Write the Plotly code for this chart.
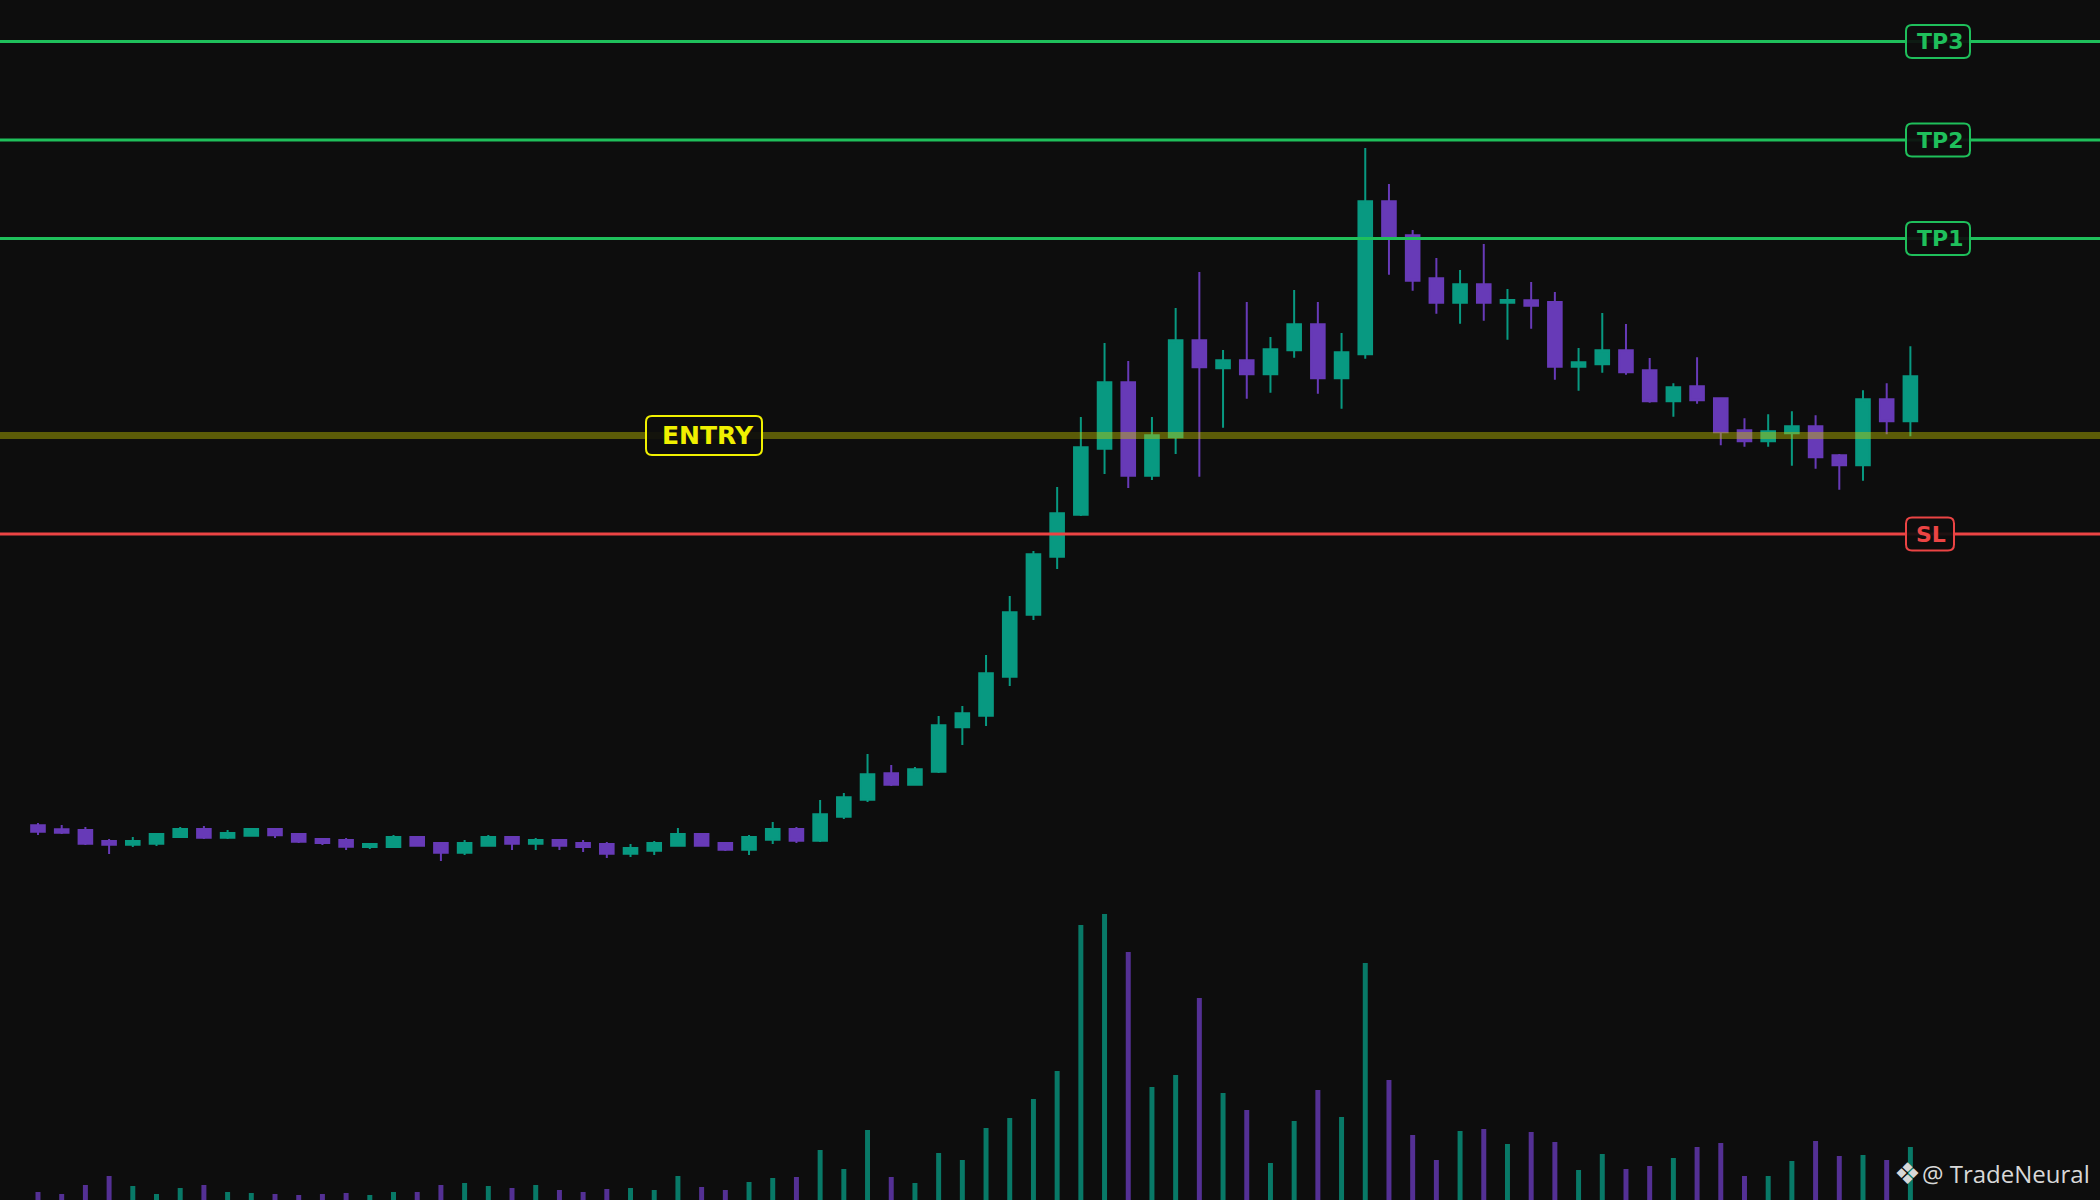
import plotly.graph_objects as go

# -------------------------
# candle data (80 bars)
# -------------------------
opens = [
    37.47, 37.07, 37.00, 35.90, 35.53, 35.63, 36.30, 37.10, 36.23, 36.43,
    37.10, 36.60, 36.10, 36.00, 35.30, 35.30, 36.30, 35.70, 34.73, 35.43,
    36.30, 35.63, 36.00, 35.70, 35.60, 34.63, 34.93, 35.43, 36.60, 35.70,
    35.03, 36.03, 37.10, 35.93, 38.33, 40.03, 42.67, 41.53, 42.83, 47.27,
    48.43, 52.33, 58.53, 64.33, 68.53, 75.13, 81.77, 72.43, 76.27, 85.97,
    83.17, 83.97, 82.57, 84.97, 87.57, 82.17, 84.57, 99.87, 96.47, 92.17,
    89.73, 91.57, 89.73, 89.97, 89.80, 83.33, 83.57, 84.97, 82.97, 79.87,
    81.37, 80.17, 76.97, 75.87, 76.67, 77.37, 74.47, 73.47, 80.07, 77.87,
]
highs = [
    37.70, 37.50, 37.30, 36.10, 36.30, 36.67, 37.30, 37.40, 37.00, 37.10,
    37.20, 36.60, 36.20, 36.20, 35.70, 36.50, 36.40, 35.80, 36.00, 36.50,
    36.30, 36.20, 36.10, 36.00, 35.80, 35.60, 35.90, 37.20, 36.70, 35.80,
    36.50, 37.80, 37.30, 40.00, 40.70, 44.60, 43.50, 43.30, 48.40, 49.40,
    54.50, 60.40, 64.90, 71.30, 78.30, 85.70, 83.90, 78.30, 89.20, 92.80,
    85.00, 89.80, 86.30, 91.00, 89.80, 86.70, 105.20, 101.60, 97.00, 94.20,
    93.00, 95.60, 91.10, 91.80, 90.80, 85.20, 88.70, 87.60, 84.20, 81.67,
    84.27, 80.27, 78.17, 78.57, 78.87, 78.47, 74.60, 80.97, 81.67, 85.37,
]
lows = [
    36.50, 36.60, 35.50, 34.60, 35.30, 35.40, 36.20, 36.10, 36.10, 36.40,
    36.20, 35.70, 35.50, 35.00, 35.10, 35.20, 35.43, 33.90, 34.50, 35.40,
    35.00, 35.00, 35.00, 34.80, 34.20, 34.30, 34.50, 35.40, 35.40, 34.90,
    34.50, 35.60, 35.70, 35.80, 38.10, 39.80, 41.40, 41.50, 42.70, 45.50,
    47.40, 51.40, 58.00, 63.10, 68.40, 72.60, 71.20, 72.00, 74.60, 72.33,
    77.23, 80.13, 80.73, 84.23, 80.63, 79.13, 84.13, 92.53, 90.93, 88.63,
    87.63, 87.93, 86.03, 87.13, 82.03, 80.93, 82.73, 82.53, 79.73, 78.33,
    79.63, 75.47, 75.33, 75.33, 73.43, 73.13, 71.03, 71.93, 76.57, 76.37,
]
closes = [
    36.83, 36.73, 35.63, 35.53, 35.90, 36.60, 37.10, 36.23, 36.70, 37.10,
    36.47, 35.83, 35.70, 35.33, 35.60, 36.30, 35.43, 34.73, 35.70, 36.30,
    35.63, 36.00, 35.43, 35.30, 34.63, 35.20, 35.70, 36.60, 35.43, 35.03,
    36.30, 37.10, 35.93, 38.57, 40.27, 42.57, 41.53, 43.07, 47.47, 48.67,
    52.67, 58.77, 64.57, 68.67, 75.27, 81.77, 72.43, 76.47, 85.97, 83.27,
    83.97, 82.57, 85.07, 87.57, 82.17, 84.77, 99.87, 96.27, 91.93, 89.73,
    91.57, 89.73, 90.00, 89.43, 83.33, 83.77, 84.97, 82.77, 79.87, 81.27,
    79.97, 76.77, 75.87, 76.87, 77.37, 74.27, 73.47, 80.07, 77.87, 82.37,
]
volumes = [
    80, 60, 150, 240, 140, 60, 120, 150, 80, 70,
    60, 50, 60, 70, 50, 80, 80, 150, 170, 140,
    120, 150, 100, 80, 110, 120, 100, 240, 130, 100,
    180, 220, 230, 500, 310, 700, 230, 170, 470, 400,
    720, 820, 1010, 1290, 2750, 2860, 2480, 1130, 1250, 2020,
    1070, 900, 370, 790, 1100, 830, 2370, 1200, 650, 400,
    690, 710, 560, 680, 580, 300, 460, 310, 340, 420,
    530, 570, 240, 240, 390, 590, 440, 450, 400, 530,
]

# trade levels
level_names = ["TP3", "TP2", "TP1", "ENTRY", "SL"]
level_prices = [115.85, 106.00, 96.15, 76.45, 66.60]

# -------------------------
# colours
# -------------------------
BG = "#0d0d0d"
UP = "#089981"
DOWN = "#673ab7"
TP_GREEN = "#1fbf5b"
SL_RED = "#eb4444"
ENTRY_YELLOW = "#f0f000"

W, H = 2100, 1200
idx = list(range(len(opens)))

vol_colors = [
    "rgba(8,153,129,0.78)" if c >= o else "rgba(103,58,183,0.8)"
    for o, c in zip(opens, closes)
]

fig = go.Figure()

# volume first so it sits under everything
fig.add_trace(go.Bar(
    x=idx, y=volumes, yaxis="y2",
    width=0.21,
    marker=dict(color=vol_colors, line=dict(width=0)),
    hoverinfo="skip", showlegend=False,
))

fig.add_trace(go.Candlestick(
    x=idx, open=opens, high=highs, low=lows, close=closes,
    increasing=dict(line=dict(color=UP, width=2), fillcolor=UP),
    decreasing=dict(line=dict(color=DOWN, width=2), fillcolor=DOWN),
    whiskerwidth=0,
    showlegend=False,
))


# -------------------------
# helper: rounded box path (x in paper, y in price units)
# -------------------------
def rounded_box(px0, px1, yc, half_h, r_px=6):
    x0, x1 = px0 / W, px1 / W
    y0, y1 = yc - half_h, yc + half_h
    rx = r_px / W
    ry = r_px / 10.0  # 1 price unit == 10 px
    return (
        f"M {x0 + rx},{y0} L {x1 - rx},{y0} Q {x1},{y0} {x1},{y0 + ry} "
        f"L {x1},{y1 - ry} Q {x1},{y1} {x1 - rx},{y1} "
        f"L {x0 + rx},{y1} Q {x0},{y1} {x0},{y1 - ry} "
        f"L {x0},{y0 + ry} Q {x0},{y0} {x0 + rx},{y0} Z"
    )


shapes = []
annotations = []

for name, price in zip(level_names, level_prices):
    if name == "ENTRY":
        color, lw = "rgba(200,200,0,0.42)", 7
    elif name == "SL":
        color, lw = SL_RED, 3
    else:
        color, lw = TP_GREEN, 3
    shapes.append(dict(
        type="line", xref="paper", x0=0, x1=1, yref="y", y0=price, y1=price,
        line=dict(color=color, width=lw), layer="above",
    ))

# label boxes + text
for name, price in zip(level_names, level_prices):
    if name == "ENTRY":
        px0, px1, half_h, col, size, tx = 646, 762, 1.95, ENTRY_YELLOW, 25, 708
    elif name == "SL":
        px0, px1, half_h, col, size, tx = 1906, 1954, 1.65, SL_RED, 22, 1931
    else:
        px0, px1, half_h, col, size, tx = 1906, 1970, 1.65, TP_GREEN, 22, 1940
    shapes.append(dict(
        type="path", xref="paper", yref="y",
        path=rounded_box(px0, px1, price, half_h),
        fillcolor="rgba(13,13,13,0.92)",
        line=dict(color=col, width=2), layer="above",
    ))
    annotations.append(dict(
        x=tx / W, xref="paper", y=price, yref="y",
        text=f"<b>{name}</b>", showarrow=False,
        xanchor="center", yanchor="middle",
        font=dict(family="DejaVu Sans", size=size, color=col),
    ))

# watermark
annotations.append(dict(
    x=1907 / W, y=(H - 1173) / H, xref="paper", yref="paper",
    text="❖", showarrow=False, xanchor="center", yanchor="middle",
    font=dict(family="DejaVu Sans", size=30, color="#d8d8d8"),
))
annotations.append(dict(
    x=2092 / W, y=(H - 1173) / H, xref="paper", yref="paper",
    text="@ TradeNeural", showarrow=False, xanchor="right", yanchor="middle",
    font=dict(family="Open Sans", size=24, color="#d8d8d8"),
))

fig.update_layout(
    width=W, height=H,
    margin=dict(l=0, r=0, t=0, b=0),
    paper_bgcolor=BG, plot_bgcolor=BG,
    boxgap=0.18,
    xaxis=dict(range=[-1.603, 87.0], visible=False, rangeslider=dict(visible=False),
               showgrid=False, zeroline=False),
    yaxis=dict(range=[0, 120], visible=False, showgrid=False, zeroline=False),
    yaxis2=dict(range=[0, 12000], overlaying="y", visible=False,
                showgrid=False, zeroline=False),
    shapes=shapes,
    annotations=annotations,
    showlegend=False,
)

fig.write_html(
    "out.html",
    config={"displayModeBar": False},
    post_script="document.body.style.margin='0';document.body.style.overflow='hidden';",
)
